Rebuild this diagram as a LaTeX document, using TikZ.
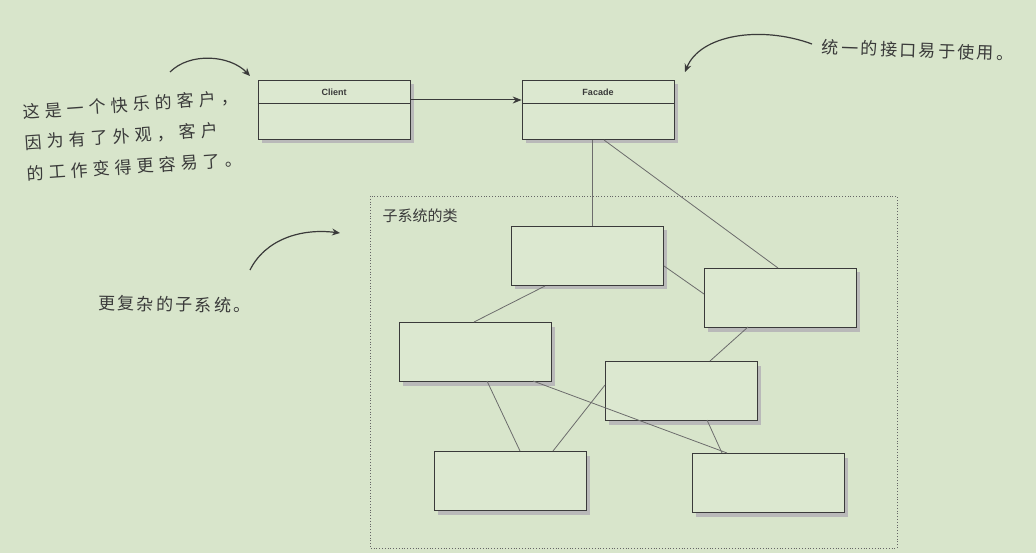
\documentclass[tikz,border=0pt]{standalone}
\usepackage{fontspec}
\setmainfont{Liberation Sans}
\newfontfamily\cjk{Noto Sans CJK SC}
\newfontfamily\cjkwide[LetterSpace=14]{Noto Sans CJK SC}
\newfontfamily\cjkwider[LetterSpace=30]{Noto Sans CJK SC}
\usetikzlibrary{arrows.meta}
\definecolor{bg}{HTML}{D8E5CB}
\definecolor{boxfill}{HTML}{DCE8D0}
\definecolor{ink}{HTML}{3A3A3A}
\tikzset{
  cls/.style={draw=ink, fill=boxfill, line width=0.7pt, minimum width=152pt, minimum height=59pt, inner sep=0pt},
  shadowbox/.style={fill=gray!55, minimum width=152pt, minimum height=59pt, inner sep=0pt},
  link/.style={draw=gray!85!black, line width=0.8pt},
  hand/.style={font=\cjkwide\fontsize{17}{31}\selectfont, text=ink, align=left, inner sep=0pt},
  curl/.style={draw=ink, line width=1.2pt, -{Stealth[length=8pt,width=7pt]}},
}
\begin{document}
\begin{tikzpicture}[x=1pt,y=-1pt]
\fill[bg] (0,0) rectangle (1036,553);
\useasboundingbox (0,0) rectangle (1036,553);
% subsystem frame
\draw[gray!80!black, dotted, line width=0.8pt] (370,196) rectangle (897,548);
\node[anchor=west, font=\cjk\fontsize{15}{16}\selectfont, text=ink] (lab) at (379,216) {子系统的类};
% boxes
\foreach \n/\x/\y in {client/334/110, facade/598/110, b1/587/256, b2/780/298, b3/475/352, b4/681/391, b5/510/481, b6/768/483}{
  \node[shadowbox] at (\x+4,\y+4) {};
  \node[cls] (\n) at (\x,\y) {};
}
\draw[ink, line width=0.6pt] ([yshift=-23pt]client.north west) -- ([yshift=-23pt]client.north east);
\draw[ink, line width=0.6pt] ([yshift=-23pt]facade.north west) -- ([yshift=-23pt]facade.north east);
\node[font=\bfseries\fontsize{9}{10}\selectfont, text=ink] (ct) at ([yshift=-12pt]client.north) {Client};
\node[font=\bfseries\fontsize{9}{10}\selectfont, text=ink] (ft) at ([yshift=-12pt]facade.north) {Facade};
% connectors
\draw[ink, line width=1pt, -{Stealth[length=9pt,width=7pt]}] (client.east |- 0,100) -- (facade.west |- 0,100);
\draw[link] (facade.south -| 592,0) -- (b1.north -| 592,0);
\draw[link] (604,140) -- (778,268);
\draw[link] (664,266) -- (704,294);
\draw[link] (545,286) -- (474,322);
\draw[link] (748,327) -- (710,361);
\draw[link] (487,381) -- (520,451);
\draw[link] (533,381) -- (727,453);
\draw[link] (605,385) -- (553,451);
\draw[link] (707,420) -- (722,453);
% handwritten notes
\node[hand, font=\cjkwider\fontsize{17}{31}\selectfont, anchor=north west, rotate=4] (n1) at (22,104) {这是一个快乐的客户，\\因为有了外观，客户\\的工作变得更容易了。};
\node[hand, anchor=west, rotate=-2] (n2) at (822,47) {统一的接口易于使用。};
\node[hand, anchor=west, rotate=-1] (n3) at (98,303) {更复杂的子系统。};
\coordinate (a1s) at (170,72);
\coordinate (a1e) at (250,76);
\draw[curl] (a1s) .. controls (190,52) and (230,55) .. (a1e);
\coordinate (a2s) at (812,44);
\coordinate (a2e) at (685,72);
\draw[curl] (a2s) .. controls (760,25) and (700,35) .. (a2e);
\coordinate (a3s) at (250,270);
\coordinate (a3e) at (340,233);
\draw[curl] (a3s) .. controls (265,240) and (300,228) .. (a3e);
\end{tikzpicture}
\end{document}
